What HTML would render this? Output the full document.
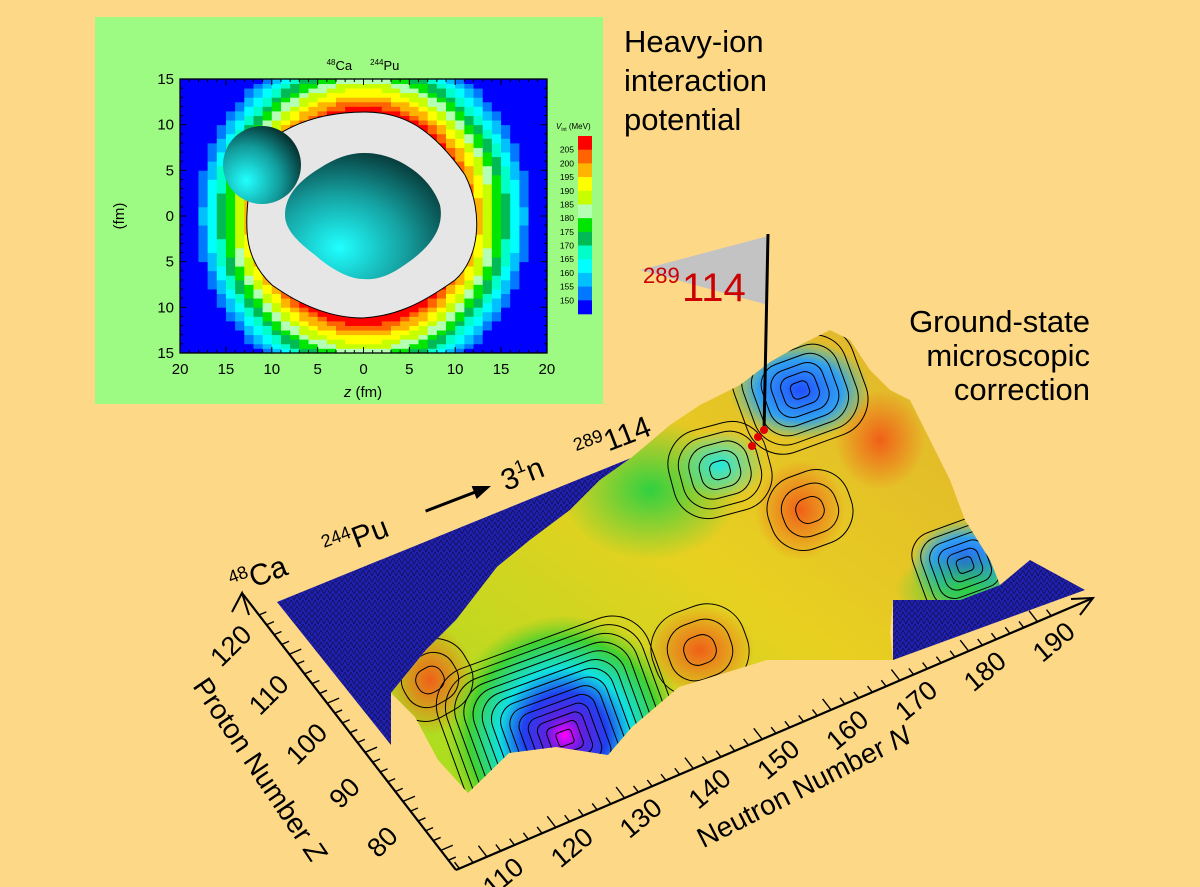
<!DOCTYPE html>
<html><head><meta charset="utf-8"><style>
html,body{margin:0;padding:0;background:#FDD987;}
svg{display:block;font-family:"Liberation Sans",Arial,sans-serif;}
</style></head><body>
<svg id="root" width="1200" height="887" viewBox="0 0 1200 887">
<defs>
<radialGradient id="gSmall" cx="0.3" cy="0.7" r="0.8"><stop offset="0" stop-color="#22ffff"/><stop offset="0.55" stop-color="#129a9a"/><stop offset="1" stop-color="#042626"/></radialGradient>
<radialGradient id="gBig" cx="0.35" cy="0.75" r="0.85"><stop offset="0" stop-color="#20ffff"/><stop offset="0.5" stop-color="#159f9f"/><stop offset="1" stop-color="#052a2a"/></radialGradient>
<linearGradient id="gBase" x1="0" y1="1" x2="1" y2="0"><stop offset="0" stop-color="#a0e020"/><stop offset="0.5" stop-color="#e8d020"/><stop offset="1" stop-color="#e0b030"/></linearGradient>
<pattern id="mesh" width="6" height="6" patternUnits="userSpaceOnUse"><rect width="6" height="6" fill="#2020b0"/><path d="M0 6 L3 0 L6 6" fill="none" stroke="#101050" stroke-width="0.8"/></pattern>
<clipPath id="clipPlot"><rect x="180" y="79" width="367" height="274"/></clipPath>
<clipPath id="clipSurf"><polygon points="391,693 426,650 456,620 497,567 530,540 570,510 600,480 631,458 670,425 700,405 740,385 770,362 800,345 830,330 850,340 870,370 890,390 910,400 930,440 950,480 965,520 990,560 1000,585 960,600 893,600 890,633 893,660 767,660 679,687 632,727 608,755 556,747 509,753 468,793 438,760 415,717"/></clipPath>
<radialGradient id="bOrange"><stop offset="0" stop-color="#f06018"/><stop offset="1" stop-color="#f06018" stop-opacity="0"/></radialGradient>
<radialGradient id="bGreen"><stop offset="0" stop-color="#30d040"/><stop offset="1" stop-color="#30d040" stop-opacity="0"/></radialGradient>
<radialGradient id="bCyan"><stop offset="0" stop-color="#20e8e0"/><stop offset="1" stop-color="#20e8e0" stop-opacity="0"/></radialGradient>
<radialGradient id="bBlue"><stop offset="0" stop-color="#2050ff"/><stop offset="0.6" stop-color="#30a0f0"/><stop offset="1" stop-color="#30c0c0" stop-opacity="0"/></radialGradient>
<radialGradient id="pit"><stop offset="0" stop-color="#ff00ff"/><stop offset="0.15" stop-color="#6020e0"/><stop offset="0.35" stop-color="#2040f0"/><stop offset="0.55" stop-color="#10e0e0"/><stop offset="0.8" stop-color="#40d030"/><stop offset="1" stop-color="#80d020" stop-opacity="0"/></radialGradient>
</defs>

<g>
<rect x="95" y="17" width="508" height="387" fill="#9DFB83"/>
<g id="heat" clip-path="url(#clipPlot)"></g>
<path d="M258,150 C290,120 330,112 365,112 C400,112 430,125 465,175 C485,215 478,260 455,280 C420,305 395,316 363,318 C330,318 300,305 272,285 C245,260 245,230 248,200 C250,175 250,165 258,150 Z" fill="#e6e6e6" stroke="#000" stroke-width="1" clip-path="url(#clipPlot)"/>
<path d="M363,153 C395,152 430,175 440,205 C446,235 420,255 400,268 C385,278 372,280 363,279 C350,279 332,270 315,255 C295,240 285,228 285,215 C285,195 300,180 320,168 C335,158 350,153 363,153 Z" fill="url(#gBig)"/>
<circle cx="262" cy="165" r="39" fill="url(#gSmall)"/>
<rect x="180" y="79" width="367" height="274" fill="none" stroke="#000" stroke-width="1.3"/>
<g id="insetAxes" font-size="15" fill="#000"></g>
<text x="363" y="70" font-size="13" text-anchor="middle"><tspan font-size="8" dy="-5">48</tspan><tspan dy="5">Ca</tspan><tspan dx="18" font-size="8" dy="-5">244</tspan><tspan dy="5">Pu</tspan></text>
<text x="363" y="397" font-size="15" text-anchor="middle"><tspan font-style="italic">z</tspan> (fm)</text>
<text x="0" y="0" font-size="15" text-anchor="middle" transform="translate(124,216) rotate(-90)">(fm)</text>
<g id="cbar"></g>
<text x="556" y="129" font-size="8"><tspan font-style="italic">V</tspan><tspan font-size="5" dy="2">int</tspan><tspan dy="-2"> (MeV)</tspan></text>
</g>

<text font-size="31" fill="#000"><tspan x="624" y="52">Heavy-ion</tspan><tspan x="624" y="91">interaction</tspan><tspan x="624" y="130">potential</tspan></text>
<text font-size="31" fill="#000" text-anchor="end"><tspan x="1090" y="332">Ground-state</tspan><tspan x="1090" y="366">microscopic</tspan><tspan x="1090" y="400">correction</tspan></text>

<g>
<polygon points="277,602 631,458 600,480 570,510 530,540 497,567 456,620 426,650 391,693 391,745" fill="url(#mesh)"/>
<polygon points="893,600 1000,585 1030,560 1085,590 893,660" fill="url(#mesh)"/>
<g clip-path="url(#clipSurf)">
<rect x="380" y="320" width="640" height="480" fill="url(#gBase)"/>
<ellipse cx="430" cy="680" rx="45" ry="55" fill="url(#bOrange)"/>
<ellipse cx="700" cy="650" rx="55" ry="45" fill="url(#bOrange)"/>
<ellipse cx="800" cy="510" rx="45" ry="50" fill="url(#bOrange)"/>
<ellipse cx="880" cy="440" rx="45" ry="50" fill="url(#bOrange)"/>
<ellipse cx="650" cy="490" rx="90" ry="70" fill="url(#bGreen)"/>
<ellipse cx="720" cy="465" rx="45" ry="35" fill="url(#bCyan)"/>
<ellipse cx="800" cy="390" rx="70" ry="50" fill="url(#bBlue)"/>
<ellipse cx="965" cy="565" rx="55" ry="45" fill="url(#bBlue)"/>
<ellipse cx="965" cy="590" rx="70" ry="40" fill="url(#bGreen)"/>
<ellipse cx="565" cy="735" rx="120" ry="120" fill="url(#pit)"/>
<g id="contours" fill="none" stroke="#000" stroke-width="1"></g>
</g>
</g>

<g>
<polygon points="640,270 768,236 768,305" fill="#c3c3c3"/>
<line x1="768" y1="234" x2="764" y2="432" stroke="#000" stroke-width="3"/>
<text x="643" y="283" font-size="22" fill="#cc0000">289</text>
<text x="682" y="301" font-size="40" fill="#cc0000">114</text>
<circle cx="764" cy="430" r="4" fill="#e00000"/><circle cx="758" cy="437" r="4" fill="#e00000"/><circle cx="752" cy="446" r="4" fill="#e00000"/>
</g>

<g transform="translate(235,595) rotate(-21)" font-size="30" fill="#000">
<text x="0" y="0"><tspan font-size="18" dy="-12">48</tspan><tspan dy="12">Ca</tspan></text>
<text x="100" y="0"><tspan font-size="18" dy="-12">244</tspan><tspan dy="12">Pu</tspan></text>
<line x1="208" y1="-10" x2="265" y2="-10" stroke="#000" stroke-width="3"/>
<polygon points="278,-10 260,-17 260,-3" fill="#000"/>
<text x="290" y="0">3<tspan font-size="18" dy="-12">1</tspan><tspan dy="12">n</tspan></text>
<text x="370" y="0"><tspan font-size="18" dy="-12">289</tspan><tspan dy="12">114</tspan></text>
</g>

<g id="axes3d" stroke="#000" fill="#000"></g>
<text transform="translate(252,775) rotate(56)" font-size="28" text-anchor="middle">Proton Number <tspan font-style="italic">Z</tspan></text>
<text transform="translate(808,795) rotate(-27)" font-size="28" text-anchor="middle">Neutron Number <tspan font-style="italic">N</tspan></text>
</svg>
<script>
const cbValues = [205,200,195,190,185,180,175,170,165,160,155,150];
const cbColors = ["#ff0000","#ff6400","#ffb400","#ffff00","#c8ff00","#b4ffb4","#00e600","#00bb55","#00ffc8","#00ffff","#00c0ff","#0078ff","#0000ff"];
const insetXTicks = [-20,-15,-10,-5,0,5,10,15,20];
const insetYTicks = [15,10,5,0,-5,-10,-15];
const zTicks = [80,90,100,110,120];
const nTicks = [110,120,130,140,150,160,170,180,190];

const NS="http://www.w3.org/2000/svg";
function el(t,a,p){const e=document.createElementNS(NS,t);for(const k in a)e.setAttribute(k,a[k]);p.appendChild(e);return e;}
const sx=v=>363.5+v*9.17, sy=v=>216-v*9.13;

const heat=document.getElementById('heat');
const cw=1, ch=0.5;
for(let z=-20;z<20;z+=cw){for(let y=-15;y<15;y+=ch){
  const dx=(z+cw/2)*9.17, dy=(y+ch/2)*9.13;
  const r=Math.sqrt(dx*dx+(dy*0.96)*(dy*0.96));
  let idx=Math.floor((r-97)/5.6 - 0.4); if(idx<0)idx=0; if(idx>12)idx=12;
  el('rect',{x:sx(z),y:sy(y+ch),width:cw*9.17+0.4,height:ch*9.13+0.4,fill:cbColors[idx]},heat);
}}
const ia=document.getElementById('insetAxes');
insetXTicks.forEach(v=>{
  const t=el('text',{x:sx(v),y:374,'text-anchor':'middle'},ia);t.textContent=Math.abs(v);
  
  
});
insetYTicks.forEach(v=>{
  const t=el('text',{x:174,y:sy(v)+5,'text-anchor':'end'},ia);t.textContent=Math.abs(v);
  
  
});
for(let v=-20;v<=20;v+=1){const L=(v%5===0)?6:3;el('line',{x1:sx(v),y1:79,x2:sx(v),y2:79+L,stroke:'#000'},ia);el('line',{x1:sx(v),y1:353,x2:sx(v),y2:353-L,stroke:'#000'},ia);}
for(let v=-15;v<=15;v+=1){const L=(v%5===0)?6:3;el('line',{x1:180,y1:sy(v),x2:180+L,y2:sy(v),stroke:'#000'},ia);el('line',{x1:547,y1:sy(v),x2:547-L,y2:sy(v),stroke:'#000'},ia);}
const cb=document.getElementById('cbar');
const bh=178/cbColors.length;
cbColors.forEach((c,i)=>{el('rect',{x:578,y:136+i*bh,width:14,height:bh+0.3,fill:c},cb);});
cbValues.forEach((v,i)=>{const t=el('text',{x:574,y:136+(i+1)*bh+3,'font-size':8.5,'text-anchor':'end'},cb);t.textContent=v;
  
  });

const cg=document.getElementById('contours');
function rings(cx,cy,n,step,rot,sq){for(let i=1;i<=n;i++){const r=i*step;
  el('rect',{x:cx-r,y:cy-r*0.9,width:2*r,height:1.8*r,rx:r*sq,transform:`rotate(${rot} ${cx} ${cy})`},cg);}}
rings(565,738,14,8,-20,0.35);
rings(800,390,7,9,-20,0.6);
rings(720,470,5,10,-15,0.7);
rings(965,565,6,8,-20,0.5);
rings(430,680,3,14,-30,0.8);
rings(700,650,3,16,-20,0.8);
rings(810,510,3,14,-20,0.8);

const ax=document.getElementById('axes3d');
const O=[456,870];
const u=[-0.611,-0.791], w=[0.919,-0.392];
const zPos=v=>[O[0]+u[0]*(v-76)*6.2,O[1]+u[1]*(v-76)*6.2];
const nPos=v=>[O[0]+w[0]*(v-105.5)*7.49,O[1]+w[1]*(v-105.5)*7.49];
el('line',{x1:O[0],y1:O[1],x2:242,y2:593,'stroke-width':2.2},ax);
el('line',{x1:O[0],y1:O[1],x2:1093,y2:598,'stroke-width':2.2},ax);
el('polyline',{points:'232,612 242,593 249,615',fill:'none','stroke-width':2},ax);
el('polyline',{points:'1071,599 1093,598 1080,615',fill:'none','stroke-width':2},ax);
for(let v=78;v<=128;v+=2){const p=zPos(v),L=(v%10===0)?13:8;el('line',{x1:p[0],y1:p[1],x2:p[0]+w[0]*L,y2:p[1]+w[1]*L,'stroke-width':1.4},ax);}
for(let v=106;v<=192;v+=2){const p=nPos(v),L=(v%10===0)?14:8;el('line',{x1:p[0],y1:p[1],x2:p[0]+u[0]*L,y2:p[1]+u[1]*L,'stroke-width':1.4},ax);}
zTicks.forEach(v=>{const p=zPos(v);const t=el('text',{transform:`translate(${p[0]-52},${p[1]-2}) rotate(-45)`,'font-size':27,'text-anchor':'middle',stroke:'none'},ax);t.textContent=v;
  
  });
nTicks.forEach(v=>{const p=nPos(v);const t=el('text',{transform:`translate(${p[0]+22},${p[1]+27}) rotate(-40)`,'font-size':27,'text-anchor':'middle',stroke:'none'},ax);t.textContent=v;
  
  });
</script>
</body></html>
